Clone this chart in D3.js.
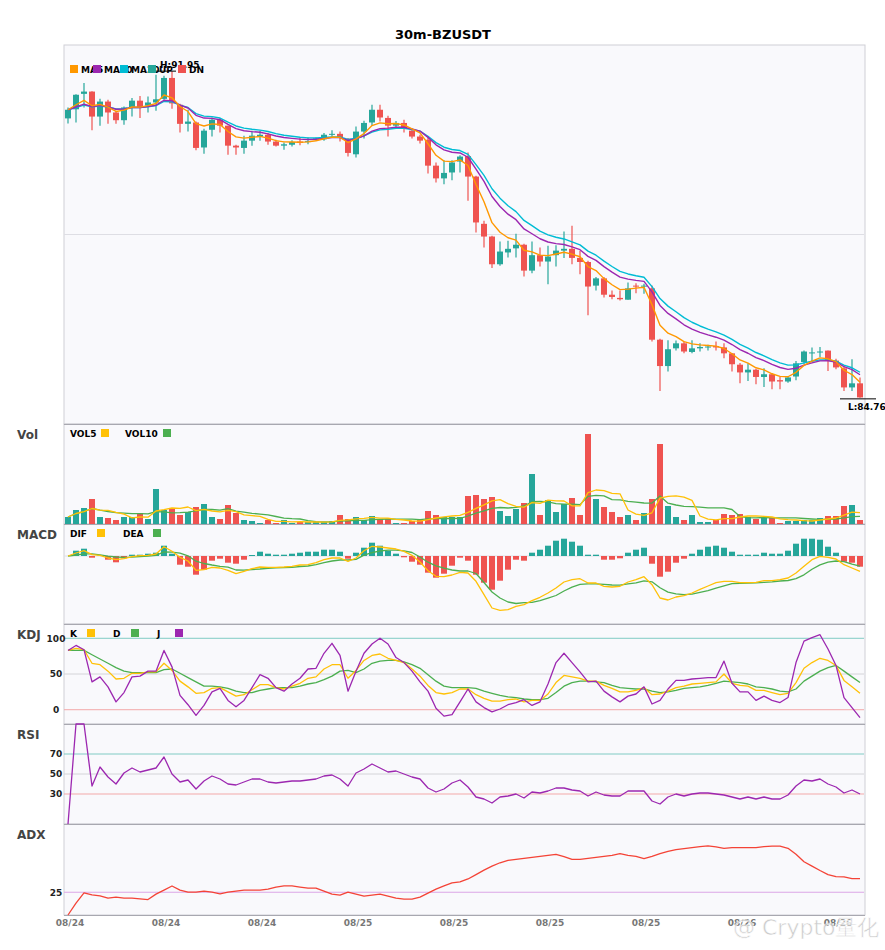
<!DOCTYPE html>
<html lang="en">
<head>
<meta charset="UTF-8">
<title>30m-BZUSDT</title>
<script src="https://d3js.org/d3.v7.min.js"></script>
<style>
  body { margin: 0; background: #fff; }
  svg text { font-family: "DejaVu Sans", sans-serif; }
</style>
</head>
<body>
<div id="chart"></div>
<script>
// 30m candles, values
var open = [90.91,91.11,91.45,91.50,90.95,91.28,91.04,90.87,91.15,91.30,
  91.19,91.26,91.34,91.80,91.21,90.79,90.82,90.27,90.66,90.88,
  90.75,90.31,90.26,90.42,90.51,90.55,90.40,90.31,90.33,90.40,
  90.39,90.45,90.45,90.55,90.57,90.46,90.12,90.62,90.82,91.10,
  90.92,90.75,90.81,90.64,90.51,90.44,89.87,89.59,89.72,89.96,
  90.08,89.63,88.59,88.31,87.70,87.96,88.05,88.13,87.56,87.90,
  87.76,87.90,88.00,88.04,87.84,87.75,87.23,87.39,87.03,86.96,
  86.92,87.23,87.22,87.17,86.04,85.46,85.85,85.96,85.77,85.85,
  85.87,85.90,85.87,85.74,85.49,85.32,85.38,85.22,85.28,85.15,
  85.12,85.23,85.55,85.74,85.76,85.80,85.58,85.41,84.99,85.08];
var high = [91.15,91.44,91.69,91.51,91.34,91.32,91.08,91.17,91.36,91.40,
  91.39,91.87,91.85,91.95,91.23,91.10,90.84,90.68,90.93,90.92,
  90.75,90.33,90.53,90.64,90.64,90.59,90.44,90.38,90.43,90.48,
  90.49,90.49,90.59,90.65,90.62,90.48,90.73,90.86,91.21,91.21,
  90.97,90.85,90.88,90.69,90.55,90.49,89.94,89.99,89.99,90.10,
  90.16,89.65,88.66,88.33,88.20,88.22,88.37,88.15,88.20,88.07,
  88.11,88.12,88.42,88.55,88.00,87.78,87.42,87.42,87.12,87.12,
  87.30,87.28,87.27,87.23,86.06,86.03,86.02,86.00,86.03,85.96,
  85.93,86.00,85.96,85.75,85.53,85.52,85.40,85.41,85.31,85.22,
  85.24,85.57,85.80,85.87,85.88,85.80,85.62,85.46,85.61,85.21];
var low = [90.80,90.82,91.15,90.65,90.75,90.79,90.79,90.77,90.95,90.92,
  91.04,91.08,91.32,91.12,90.60,90.62,90.21,90.13,90.51,90.60,
  90.11,90.11,90.13,90.31,90.42,90.33,90.29,90.22,90.29,90.32,
  90.34,90.42,90.42,90.49,90.40,90.07,90.05,90.47,90.75,90.84,
  90.51,90.69,90.60,90.47,90.36,89.70,89.50,89.46,89.55,89.72,
  89.10,88.40,88.07,87.62,87.67,87.85,87.85,87.43,87.50,87.65,
  87.26,87.65,87.84,87.70,87.48,86.58,87.12,86.97,86.93,86.90,
  86.92,87.06,87.05,86.00,84.91,85.34,85.80,85.74,85.74,85.78,
  85.80,85.80,85.63,85.34,85.08,85.13,85.06,85.00,84.95,84.95,
  85.09,85.15,85.50,85.57,85.66,85.35,85.39,84.91,84.91,84.76];
var close = [91.10,91.43,91.50,90.95,91.28,91.04,90.87,91.15,91.30,91.15,
  91.26,91.33,91.80,91.24,90.79,90.84,90.26,90.64,90.88,90.75,
  90.31,90.27,90.42,90.53,90.55,90.40,90.31,90.34,90.39,90.37,
  90.41,90.47,90.55,90.57,90.48,90.15,90.62,90.81,91.10,90.93,
  90.75,90.81,90.70,90.51,90.42,89.87,89.59,89.71,89.94,90.07,
  89.63,88.62,88.31,87.70,87.98,88.04,88.13,87.56,87.90,87.76,
  87.87,88.00,88.04,87.84,87.75,87.21,87.39,87.03,86.98,86.93,
  87.17,87.22,87.23,86.04,85.46,85.83,85.96,85.78,85.85,85.88,
  85.89,85.87,85.74,85.50,85.32,85.38,85.22,85.28,85.12,85.12,
  85.21,85.52,85.78,85.76,85.78,85.58,85.43,84.99,85.08,84.77];
var volume = [7,14,16,25,7,6,4,7,7,11,
  5,35,14,15,9,12,17,20,7,5,
  19,11,4,3,1,4,1,4,1,2,
  2,2,2,3,9,5,7,4,8,5,
  5,1,1,3,4,13,9,7,7,7,
  28,29,25,27,13,8,15,21,50,9,
  24,12,20,26,9,90,25,17,12,7,
  9,4,11,25,80,18,7,4,9,2,
  2,4,10,9,10,7,5,7,6,1,
  3,3,4,4,6,8,8,18,19,4];

var ma5 = [91.100,91.210,91.307,91.188,91.219,91.159,91.063,91.092,91.161,91.157,
  91.191,91.237,91.425,91.363,91.172,91.061,90.794,90.743,90.789,90.776,
  90.621,90.504,90.476,90.494,90.513,90.475,90.420,90.393,90.392,90.385,
  90.393,90.419,90.463,90.499,90.493,90.379,90.459,90.576,90.751,90.811,
  90.791,90.797,90.765,90.680,90.593,90.352,90.098,89.969,89.959,89.996,
  89.874,89.456,89.074,88.616,88.404,88.283,88.232,88.008,87.972,87.901,
  87.891,87.927,87.965,87.923,87.865,87.647,87.561,87.384,87.249,87.143,
  87.152,87.175,87.193,86.809,86.359,86.183,86.109,85.999,85.949,85.926,
  85.914,85.899,85.846,85.731,85.594,85.523,85.422,85.375,85.290,85.233,
  85.225,85.323,85.475,85.570,85.640,85.620,85.557,85.368,85.272,85.105];
var ma10 = [91.100,91.160,91.222,91.172,91.192,91.164,91.111,91.118,91.151,91.151,
  91.171,91.200,91.309,91.296,91.204,91.138,90.978,90.917,90.910,90.881,
  90.777,90.685,90.637,90.618,90.606,90.569,90.522,90.489,90.471,90.453,
  90.445,90.450,90.468,90.487,90.486,90.425,90.460,90.524,90.629,90.684,
  90.696,90.717,90.714,90.677,90.630,90.492,90.328,90.216,90.166,90.149,
  90.055,89.794,89.524,89.192,88.972,88.803,88.681,88.477,88.372,88.261,
  88.190,88.155,88.134,88.081,88.021,87.874,87.786,87.649,87.527,87.418,
  87.373,87.345,87.324,87.091,86.794,86.619,86.499,86.368,86.274,86.202,
  86.145,86.095,86.030,85.934,85.822,85.742,85.647,85.580,85.496,85.428,
  85.388,85.412,85.479,85.530,85.575,85.576,85.549,85.447,85.380,85.269];
var ma20 = [91.100,91.150,91.202,91.164,91.181,91.160,91.117,91.122,91.149,91.149,
  91.166,91.191,91.282,91.276,91.203,91.149,91.016,90.960,90.948,90.918,
  90.827,90.743,90.695,90.670,90.652,90.621,90.574,90.539,90.517,90.495,
  90.482,90.480,90.491,90.503,90.500,90.447,90.473,90.524,90.610,90.658,
  90.672,90.693,90.694,90.666,90.629,90.515,90.376,90.276,90.226,90.203,
  90.117,89.892,89.655,89.362,89.155,88.988,88.859,88.664,88.549,88.431,
  88.347,88.295,88.257,88.194,88.127,87.989,87.899,87.769,87.651,87.543,
  87.487,87.447,87.414,87.208,86.946,86.779,86.656,86.525,86.424,86.342,
  86.274,86.213,86.142,86.046,85.937,85.853,85.758,85.686,85.601,85.529,
  85.481,85.487,85.531,85.565,85.597,85.594,85.569,85.482,85.422,85.324];

var vol5 = [7,10.5,12.3,15.5,13.8,13.6,11.6,9.8,6.2,7.0,
  6.8,13.0,14.4,16.0,15.6,17.0,13.4,14.6,13.0,12.2,
  13.6,12.4,9.2,8.4,7.6,4.6,2.6,2.6,2.2,2.4,
  2.0,2.2,1.8,2.2,3.6,4.2,5.2,5.6,6.6,5.8,
  5.8,4.6,4.0,3.0,2.8,4.4,6.0,7.2,8.0,8.6,
  11.6,15.6,19.2,23.2,24.4,20.4,17.6,16.8,21.4,20.6,
  23.8,23.2,23.0,18.2,18.2,31.4,34.0,33.4,30.6,30.2,
  14.0,9.8,8.6,11.2,25.8,27.6,28.2,26.8,23.6,8.0,
  4.8,4.2,5.4,5.4,7.0,8.0,8.2,7.6,7.0,5.2,
  4.4,4.0,3.4,3.0,4.0,5.0,6.0,8.8,11.8,11.4];
var vol10 = [7,10.5,12.3,15.5,13.8,12.5,11.3,10.8,10.3,10.4,
  10.2,12.3,12.1,11.1,11.3,11.9,13.2,14.5,14.5,13.9,
  15.3,12.9,11.9,10.7,9.9,9.1,7.5,5.9,5.3,5.0,
  3.3,2.4,2.2,2.2,3.0,3.1,3.7,3.7,4.4,4.7,
  5.0,4.9,4.8,4.8,4.3,5.1,5.3,5.6,5.5,5.7,
  8.0,10.8,13.2,15.6,16.5,16.0,16.6,18.0,22.3,22.5,
  22.1,20.4,19.9,19.8,19.4,27.6,28.6,28.2,24.4,24.2,
  22.7,21.9,21.0,20.9,28.0,20.8,19.0,17.7,17.4,16.9,
  16.2,16.2,16.1,14.5,7.5,6.4,6.2,6.5,6.2,6.1,
  6.2,6.1,5.5,5.0,4.6,4.7,5.0,6.1,7.4,7.7];

var dif = [0,.030,.053,.013,.007,-.020,-.037,-.027,-.007,.003,
  .007,.020,.093,.047,-.013,-.050,-.143,-.137,-.113,-.120,
  -.143,-.177,-.153,-.127,-.110,-.113,-.113,-.110,-.103,-.090,
  -.087,-.067,-.037,-.020,-.020,-.053,-.020,.053,.097,.090,
  .080,.070,.047,.007,-.060,-.147,-.203,-.207,-.190,-.163,
  -.170,-.253,-.387,-.520,-.543,-.537,-.503,-.487,-.447,-.413,
  -.370,-.320,-.260,-.237,-.227,-.270,-.270,-.303,-.310,-.303,
  -.260,-.237,-.207,-.287,-.420,-.440,-.410,-.397,-.370,-.333,
  -.300,-.267,-.253,-.253,-.267,-.267,-.263,-.247,-.247,-.237,
  -.220,-.170,-.103,-.037,-.003,-.013,-.030,-.087,-.120,-.153];
var dea = [0,.010,.022,.021,.012,-.002,-.010,-.014,-.011,-.005,
  -.002,.007,.042,.038,.028,.002,-.052,-.075,-.090,-.103,
  -.112,-.140,-.142,-.135,-.130,-.123,-.119,-.116,-.113,-.105,
  -.100,-.086,-.066,-.050,-.040,-.040,-.034,.008,.033,.050,
  .058,.059,.052,.035,-.010,-.062,-.098,-.122,-.140,-.150,
  -.150,-.175,-.265,-.360,-.420,-.460,-.475,-.466,-.463,-.446,
  -.421,-.395,-.350,-.311,-.283,-.278,-.278,-.283,-.290,-.291,
  -.278,-.269,-.248,-.258,-.318,-.361,-.378,-.386,-.381,-.364,
  -.347,-.321,-.299,-.277,-.274,-.272,-.268,-.263,-.258,-.250,
  -.245,-.226,-.188,-.132,-.089,-.061,-.050,-.056,-.082,-.101];
var macdHist = [0,.053,.073,-.017,.003,-.037,-.063,-.023,.013,.013,
  .023,.033,.103,.023,-.087,-.107,-.187,-.137,-.047,-.027,
  -.067,-.077,-.037,.010,.043,.023,.013,.013,.023,.033,
  .043,.043,.063,.063,.043,-.027,.033,.083,.133,.103,
  .053,.023,-.013,-.057,-.087,-.167,-.217,-.177,-.097,-.017,
  -.047,-.187,-.267,-.337,-.247,-.137,-.037,-.047,.033,.063,
  .103,.153,.173,.143,.103,.013,.013,-.037,-.037,-.023,
  .033,.063,.083,-.077,-.207,-.157,-.067,-.027,.023,.063,
  .093,.103,.083,.043,.013,.013,.013,.033,.023,.023,
  .053,.123,.173,.173,.163,.093,.033,-.057,-.067,-.107];

var kLine = [83,86,84,65,63,54,43,44,51,51,
  53,53,65,55,40,32,23,24,30,31,
  25,19,21,28,35,35,31,29,33,37,
  44,46,57,63,63,44,55,69,76,78,
  72,69,66,57,47,34,24,22,24,29,
  29,21,16,12,12,14,15,11,13,13,
  22,38,48,46,44,40,40,34,30,25,
  25,27,31,21,22,26,31,33,36,37,
  38,39,50,37,34,33,27,27,24,21,
  23,38,58,66,72,69,62,41,32,23];
var dLine = [83,83,83,77,71,65,59,54,52,52,
  52,52,56,57,51,45,39,33,33,32,
  30,26,24,24,27,29,31,31,31,33,
  36,38,42,47,54,55,52,57,65,68,
  69,69,67,63,58,49,40,33,31,31,
  31,30,26,23,20,18,17,15,14,14,
  16,24,33,38,40,40,39,38,34,31,
  30,29,29,26,24,25,27,30,31,32,
  34,37,40,39,38,36,32,31,29,26,
  25,29,40,47,54,59,62,54,46,38];
var jLine = [83,90,84,39,46,32,11,24,46,47,
  54,54,83,60,20,7,-8,6,25,30,
  13,4,13,31,49,44,31,26,36,44,
  57,58,79,93,76,26,54,79,92,100,
  92,73,66,54,39,26,2,-9,-7,11,
  29,11,3,-3,1,7,10,14,6,11,
  36,66,79,66,53,39,40,26,18,11,
  19,22,32,8,13,29,41,41,43,44,
  45,45,68,37,25,25,13,19,13,10,
  17,66,96,101,105,85,62,17,3,-11];

var rsi = [0,100,100,38,57,47,40,51,56,52,
  54,56,67,50,42,44,35,43,48,45,
  40,39,42,45,45,42,41,42,43,43,
  44,45,48,49,45,38,51,55,60,56,
  52,53,50,47,45,36,32,35,41,44,
  37,27,25,21,27,28,30,26,32,31,
  33,36,36,34,33,28,32,29,28,28,
  33,33,33,23,20,27,30,28,30,31,
  31,30,29,27,25,27,25,27,25,25,
  29,38,44,43,45,40,37,31,34,30];
var adx = [0,13,24.4,22.2,21.1,18.5,19.6,18.5,18.5,17.8,
  17,22.9,27.4,31.9,27.4,25.2,25.2,26.3,25.2,23.3,
  25.2,26.3,27.4,27.4,27.4,28.5,30.7,31.9,31.9,30.7,
  29.6,29.6,26.3,23,21.9,25.2,23,20.7,21.9,23,
  20.7,18.5,17.4,17.4,19.6,24.1,28.5,31.9,35.2,36.3,
  39.6,44.4,49.3,53.7,57.4,60,61.1,62.2,63.3,64.4,
  65.6,66.7,64.1,61.1,61.1,62.2,63.3,64.4,65.6,67.4,
  65.6,64.4,61.9,64.4,67.4,70,71.9,73,74.1,75.2,
  75.9,74.8,73.3,74.1,74.1,74.1,74.1,75.2,75.6,75.6,
  73.3,66.7,58.5,53.7,48.9,44.4,42.2,41.9,40,40];

var tickIndex = [0, 12, 24, 36, 48, 60, 72, 84, 96];
var tickLabels = ["08/24","08/24","08/24","08/25","08/25","08/25","08/25","08/26","08/26"];

// ---- layout ----
const W = 885, H = 950;
const left = 64, right = 864;
const UP = "#26a69a", DN = "#ef5350";
const YEL = "#ffc107", GRN = "#4caf50", PUR = "#9c27b0";

const svg = d3.select("#chart").append("svg")
    .attr("width", W).attr("height", H)
    .style("background", "#fff");

svg.append("text")
    .attr("x", 443).attr("y", 39)
    .attr("text-anchor", "middle")
    .attr("font-size", 13).attr("font-weight", "bold")
    .text("30m-BZUSDT");

// band scale for the 100 bars
const x = d3.scaleBand()
    .domain(d3.range(close.length))
    .range([left, right])
    .paddingInner(0.25).paddingOuter(0.125);
const bw = x.bandwidth();
const cx = i => x(i) + bw / 2;
const isUp = i => close[i] >= open[i];

// panels: [top, bottom]
const P = {
    main: [45, 424], vol: [424, 524], macd: [524, 624],
    kdj: [624, 724], rsi: [724, 824], adx: [824, 915]
};
Object.values(P).forEach(p => {
    svg.append("rect")
        .attr("x", left).attr("y", p[0])
        .attr("width", right - left + 1).attr("height", p[1] - p[0])
        .attr("fill", "#f9f9fc")
        .attr("stroke", "#cfcfd6").attr("stroke-width", 1);
});
// darker separators between indicator panes
[424, 524, 624, 724, 824, 915].forEach(yy => {
    svg.append("line").attr("x1", left).attr("x2", right + 1)
        .attr("y1", yy + 0.5).attr("y2", yy + 0.5)
        .attr("stroke", "#a8a8b0");
});

const yP = d3.scaleLinear().domain([84.185, 92.525]).range([P.main[1], P.main[0]]);
const yV = d3.scaleLinear().domain([0, 100]).range([P.vol[1], P.vol[0]]);
const yM = d3.scaleLinear().domain([-0.68, 0.32]).range([P.macd[1], P.macd[0]]);
const yK = d3.scaleLinear().domain([-20, 120]).range([P.kdj[1], P.kdj[0]]);
const yR = d3.scaleLinear().domain([0, 100]).range([P.rsi[1], P.rsi[0]]);
const yA = d3.scaleLinear().domain([0, 100]).range([P.adx[1], P.adx[0]]);

function hline(scale, v, color) {
    svg.append("line")
        .attr("x1", left).attr("x2", right)
        .attr("y1", scale(v)).attr("y2", scale(v))
        .attr("stroke", color).attr("stroke-width", 1);
}
function drawLine(data, scale, color, w) {
    svg.append("path")
        .datum(data)
        .attr("fill", "none")
        .attr("stroke", color)
        .attr("stroke-width", w || 1.3)
        .attr("stroke-linejoin", "round")
        .attr("d", d3.line().x((d, i) => cx(i)).y(d => scale(d)));
}
function legend(items, y, squareFirst) {
    items.forEach(it => {
        const sx = squareFirst ? it.x : it.sx;
        const tx = squareFirst ? it.x + 11 : it.x;
        if (!squareFirst) {
            svg.append("text").attr("x", tx).attr("y", y + 7.5)
                .attr("font-size", 9).attr("font-weight", "bold").text(it.label);
        }
        svg.append("rect").attr("x", sx).attr("y", y)
            .attr("width", 8).attr("height", 8).attr("fill", it.color);
        if (squareFirst) {
            svg.append("text").attr("x", tx).attr("y", y + 7.5)
                .attr("font-size", 9).attr("font-weight", "bold").text(it.label);
        }
    });
}
function paneTitle(txt, y) {
    svg.append("text").attr("x", 17).attr("y", y)
        .attr("font-size", 12).attr("font-weight", "bold")
        .attr("fill", "#444").text(txt);
}

// ---- price pane ----
hline(yP, 88.355, "#dedee4");
const candles = svg.append("g");
candles.selectAll("line")
    .data(close)
    .join("line")
    .attr("x1", (d, i) => cx(i)).attr("x2", (d, i) => cx(i))
    .attr("y1", (d, i) => yP(high[i])).attr("y2", (d, i) => yP(low[i]))
    .attr("stroke", (d, i) => isUp(i) ? UP : DN)
    .attr("stroke-width", 1.2);
candles.selectAll("rect")
    .data(close)
    .join("rect")
    .attr("x", (d, i) => x(i))
    .attr("width", bw)
    .attr("y", (d, i) => yP(Math.max(open[i], close[i])))
    .attr("height", (d, i) => Math.max(1, Math.abs(yP(open[i]) - yP(close[i]))))
    .attr("fill", (d, i) => isUp(i) ? UP : DN);

drawLine(ma20, yP, "#00bcd4", 1.4);
drawLine(ma10, yP, PUR, 1.4);
drawLine(ma5, yP, "#ff9800", 1.4);

// highest / lowest markers
const hiIdx = d3.maxIndex(high), loIdx = d3.minIndex(low);
svg.append("line").attr("x1", cx(hiIdx) - 16).attr("x2", cx(hiIdx) + 4)
    .attr("y1", yP(high[hiIdx])).attr("y2", yP(high[hiIdx]))
    .attr("stroke", "#000").attr("stroke-width", 1);
svg.append("text").attr("x", cx(hiIdx) - 12).attr("y", yP(high[hiIdx]) - 3)
    .attr("font-size", 9).attr("font-weight", "bold")
    .text("H:" + high[hiIdx].toFixed(2));
svg.append("line").attr("x1", cx(loIdx) - 20).attr("x2", cx(loIdx) + 16)
    .attr("y1", yP(low[loIdx]) + 1).attr("y2", yP(low[loIdx]) + 1)
    .attr("stroke", "#000").attr("stroke-width", 1);
svg.append("text").attr("x", cx(loIdx) - 12).attr("y", yP(low[loIdx]) + 12)
    .attr("font-size", 9).attr("font-weight", "bold")
    .text("L:" + low[loIdx].toFixed(2));

legend([
    {x: 70, color: "#ff9800", label: "MA5"},
    {x: 93, color: PUR, label: "MA10"},
    {x: 120, color: "#00bcd4", label: "MA20"},
    {x: 148, color: UP, label: "UP"},
    {x: 178, color: DN, label: "DN"}
], 65, true);

// ---- volume pane ----
paneTitle("Vol", 439);
svg.append("g").selectAll("rect")
    .data(volume)
    .join("rect")
    .attr("x", (d, i) => x(i)).attr("width", bw)
    .attr("y", d => yV(d)).attr("height", d => yV(0) - yV(d))
    .attr("fill", (d, i) => isUp(i) ? UP : DN);
drawLine(vol10, yV, GRN);
drawLine(vol5, yV, YEL);
legend([
    {x: 70, sx: 101, color: YEL, label: "VOL5"},
    {x: 125, sx: 163, color: GRN, label: "VOL10"}
], 429, false);

// ---- MACD pane ----
paneTitle("MACD", 539);
hline(yM, 0, "#dedee4");
svg.append("g").selectAll("rect")
    .data(macdHist)
    .join("rect")
    .attr("x", (d, i) => x(i)).attr("width", bw)
    .attr("y", d => yM(Math.max(0, d)))
    .attr("height", d => Math.abs(yM(d) - yM(0)))
    .attr("fill", d => d >= 0 ? UP : DN);
drawLine(dea, yM, GRN);
drawLine(dif, yM, YEL);
legend([
    {x: 70, sx: 97, color: YEL, label: "DIF"},
    {x: 123, sx: 153, color: GRN, label: "DEA"}
], 529, false);

// ---- KDJ pane ----
paneTitle("KDJ", 639);
hline(yK, 100, "#80cbc4");
hline(yK, 50, "#d4d4d8");
hline(yK, 0, "#f3a9a9");
drawLine(dLine, yK, GRN);
drawLine(kLine, yK, YEL);
drawLine(jLine, yK, PUR);
legend([
    {x: 70, sx: 87, color: YEL, label: "K"},
    {x: 113, sx: 131, color: GRN, label: "D"},
    {x: 157, sx: 175, color: PUR, label: "J"}
], 629, false);

// ---- RSI pane ----
paneTitle("RSI", 739);
hline(yR, 70, "#80cbc4");
hline(yR, 50, "#d4d4d8");
hline(yR, 30, "#f3a9a9");
drawLine(rsi, yR, PUR);

// ---- ADX pane ----
paneTitle("ADX", 839);
hline(yA, 25, "#dba6e6");
drawLine(adx, yA, "#f44336");

// y tick labels for the oscillator panes
function yTicks(scale, vals) {
    const g = svg.append("g")
        .attr("transform", `translate(${left},0)`)
        .call(d3.axisLeft(scale).tickValues(vals).tickSize(0).tickPadding(8));
    g.select(".domain").remove();
    g.selectAll("text")
        .attr("text-anchor", "middle").attr("x", -8)
        .attr("font-size", 9).attr("font-weight", "bold")
        .attr("font-family", "DejaVu Sans").attr("fill", "#222");
}
yTicks(yK, [0, 50, 100]);
yTicks(yR, [30, 50, 70]);
yTicks(yA, [25]);

// time axis
const xa = svg.append("g")
    .attr("transform", `translate(0,${P.adx[1]})`)
    .call(d3.axisBottom(x).tickValues(tickIndex)
        .tickFormat((d, i) => tickLabels[i]).tickSize(0).tickPadding(5));
xa.select(".domain").remove();
xa.selectAll("text")
    .attr("dx", 2)
    .attr("font-size", 9).attr("font-weight", "bold")
    .attr("font-family", "DejaVu Sans").attr("fill", "#777");

// source watermark
svg.append("text")
    .attr("x", 733).attr("y", 935)
    .attr("font-size", 22)
    .attr("font-family", "'Noto Sans CJK SC', sans-serif")
    .attr("fill", "#c4c4c4").attr("opacity", 0.85)
    .attr("stroke", "#fff").attr("stroke-width", 0.6)
    .text("@ Crypto量化");
</script>
</body>
</html>
